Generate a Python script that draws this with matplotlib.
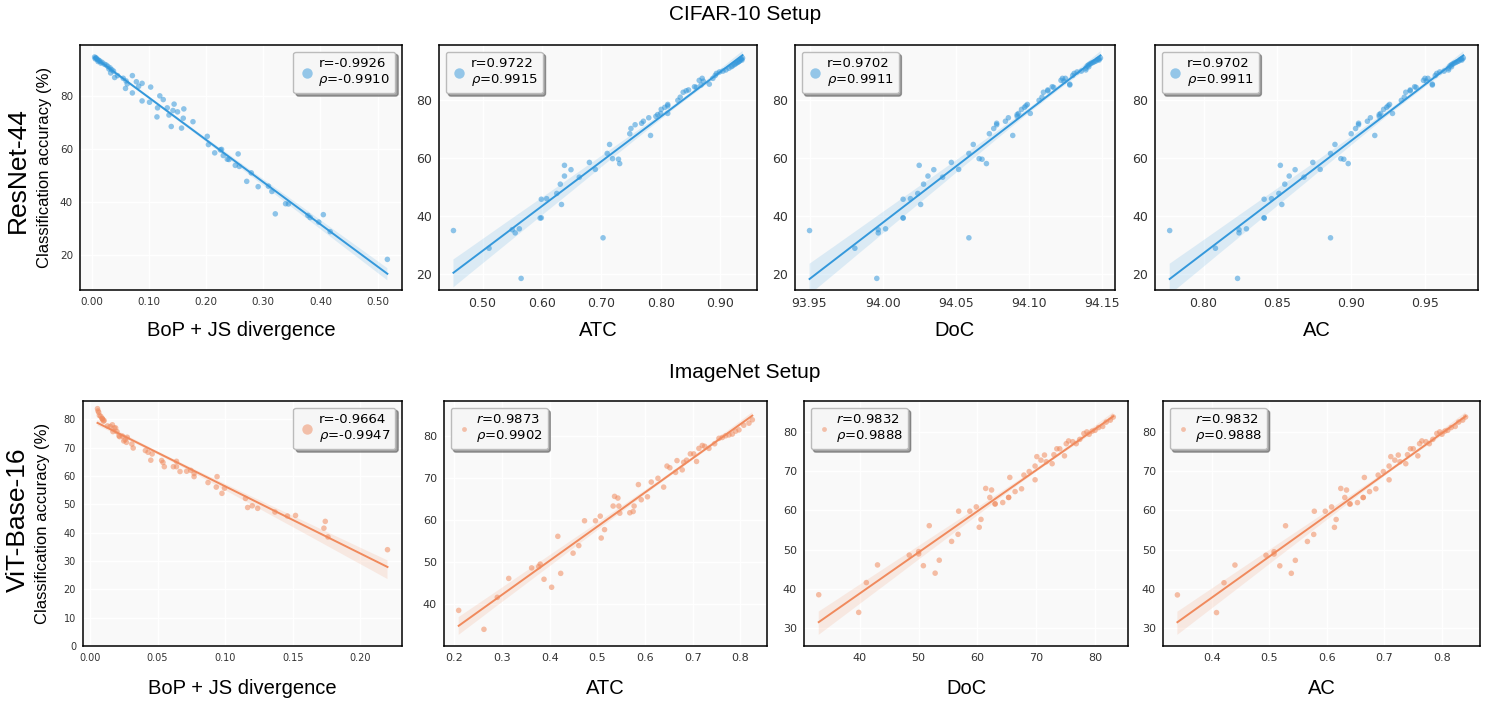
import numpy as np
import matplotlib
matplotlib.use("Agg")
import matplotlib.pyplot as plt
from matplotlib.lines import Line2D
from matplotlib.ticker import MultipleLocator, FormatStrFormatter
import seaborn as sns

# CIFAR-10 / ResNet-44 (accuracy shared by all four metrics)
cifar_acc = [94.5, 94.2, 94.0, 93.8, 93.5, 93.3, 93.0, 92.8, 92.5, 92.2, 91.8, 91.5, 91.0, 90.4,
             90.0, 89.7, 89.2, 88.5, 87.5, 87.5, 86.8, 86.5, 85.5, 85.2, 84.6, 84.4, 83.5, 83.2,
             82.7, 81.0, 79.9, 78.5, 78.0, 77.5, 76.8, 75.4, 75.4, 75.0, 74.4, 73.9, 72.7, 72.0,
             71.5, 70.2, 68.4, 67.8, 64.7, 61.6, 59.8, 59.6, 58.5, 58.1, 57.5, 56.1, 56.0, 53.8,
             53.4, 51.0, 47.8, 46.0, 45.8, 44.0, 39.4, 39.3, 35.6, 35.3, 35.0, 34.2, 32.5, 28.9, 18.5]
cifar_bop = [0.005, 0.007, 0.008, 0.006, 0.010, 0.012, 0.014, 0.011, 0.018, 0.016, 0.022, 0.025, 0.028, 0.032,
             0.030, 0.035, 0.038, 0.033, 0.045, 0.071, 0.040, 0.055, 0.060, 0.078, 0.088, 0.062, 0.082, 0.103,
             0.059, 0.071, 0.119, 0.125, 0.088, 0.101, 0.144, 0.132, 0.115, 0.161, 0.142, 0.150, 0.135, 0.114,
             0.160, 0.177, 0.139, 0.157, 0.202, 0.204, 0.227, 0.225, 0.215, 0.256, 0.230, 0.237, 0.240, 0.251,
             0.258, 0.279, 0.271, 0.309, 0.291, 0.315, 0.339, 0.344, 0.321, 0.405, 0.378, 0.382, 0.397, 0.417, 0.517]
cifar_atc = [0.938, 0.936, 0.935, 0.937, 0.933, 0.932, 0.930, 0.928, 0.926, 0.924, 0.921, 0.919, 0.915, 0.910,
             0.905, 0.899, 0.894, 0.892, 0.888, 0.870, 0.865, 0.872, 0.882, 0.868, 0.857, 0.860, 0.847, 0.843,
             0.838, 0.833, 0.829, 0.812, 0.812, 0.807, 0.801, 0.812, 0.800, 0.795, 0.792, 0.780, 0.771, 0.768,
             0.757, 0.750, 0.748, 0.783, 0.714, 0.710, 0.719, 0.729, 0.680, 0.731, 0.638, 0.690, 0.649, 0.638,
             0.663, 0.631, 0.625, 0.608, 0.599, 0.633, 0.599, 0.597, 0.562, 0.550, 0.451, 0.555, 0.703, 0.511, 0.565]
cifar_doc = [94.149, 94.148, 94.147, 94.148, 94.146, 94.145, 94.144, 94.143, 94.142, 94.141, 94.140, 94.141, 94.139, 94.139,
             94.136, 94.133, 94.131, 94.130, 94.125, 94.123, 94.122, 94.124, 94.128, 94.128, 94.116, 94.117, 94.113, 94.113,
             94.110, 94.109, 94.107, 94.099, 94.098, 94.097, 94.095, 94.101, 94.093, 94.092, 94.092, 94.086, 94.084, 94.078,
             94.078, 94.076, 94.073, 94.089, 94.062, 94.059, 94.066, 94.068, 94.047, 94.071, 94.025, 94.052, 94.035, 94.031,
             94.041, 94.028, 94.024, 94.019, 94.014, 94.026, 94.014, 94.014, 94.002, 93.997, 93.950, 93.997, 94.059, 93.981, 93.996]
cifar_ac = [0.976, 0.975, 0.974, 0.975, 0.973, 0.972, 0.971, 0.970, 0.969, 0.968, 0.967, 0.968, 0.966, 0.966,
            0.963, 0.960, 0.958, 0.957, 0.952, 0.950, 0.949, 0.951, 0.955, 0.955, 0.943, 0.944, 0.940, 0.940,
            0.937, 0.936, 0.934, 0.926, 0.925, 0.924, 0.922, 0.928, 0.920, 0.919, 0.919, 0.913, 0.911, 0.905,
            0.905, 0.903, 0.900, 0.916, 0.889, 0.886, 0.893, 0.895, 0.874, 0.898, 0.852, 0.879, 0.862, 0.858,
            0.868, 0.855, 0.851, 0.846, 0.841, 0.853, 0.841, 0.841, 0.829, 0.824, 0.777, 0.824, 0.886, 0.808, 0.823]

# ImageNet / ViT-Base-16
imnet_acc = [83.8, 83.0, 82.5, 81.4, 81.1, 80.4, 80.2, 80.0, 79.6, 79.4, 78.1, 77.7, 77.5, 77.0, 77.0,
             75.7, 75.7, 74.2, 74.1, 73.9, 73.7, 72.8, 72.4, 71.9, 71.3, 69.9, 69.0, 68.4, 67.8, 65.6,
             65.5, 65.2, 64.8, 63.3, 63.3, 63.3, 62.0, 61.7, 61.6, 60.9, 59.8, 59.8, 57.7, 56.1, 55.7,
             53.9, 52.1, 49.5, 48.9, 48.6, 47.3, 46.1, 45.9, 44.0, 41.6, 38.5, 34.0]
imnet_bop = [0.0056, 0.006, 0.0065, 0.007, 0.008, 0.009, 0.009, 0.0095, 0.0105, 0.010, 0.0166, 0.013, 0.015, 0.019, 0.018,
             0.020, 0.017, 0.0215, 0.024, 0.022, 0.0276, 0.026, 0.025, 0.027, 0.031, 0.032, 0.041, 0.043, 0.046, 0.045,
             0.053, 0.064, 0.054, 0.055, 0.0617, 0.064, 0.0746, 0.0715, 0.0666, 0.077, 0.094, 0.077, 0.0873, 0.0934, 0.0995,
             0.0976, 0.115, 0.120, 0.1166, 0.124, 0.1368, 0.152, 0.146, 0.174, 0.173, 0.176, 0.220]
imnet_atc = [0.825, 0.818, 0.807, 0.797, 0.790, 0.783, 0.776, 0.769, 0.762, 0.755, 0.746, 0.720, 0.725, 0.713, 0.734,
             0.695, 0.702, 0.687, 0.667, 0.708, 0.681, 0.646, 0.652, 0.678, 0.664, 0.627, 0.613, 0.586, 0.639, 0.536,
             0.605, 0.543, 0.592, 0.533, 0.545, 0.577, 0.575, 0.568, 0.547, 0.506, 0.473, 0.496, 0.515, 0.417, 0.508,
             0.461, 0.449, 0.380, 0.377, 0.362, 0.423, 0.314, 0.388, 0.404, 0.290, 0.209, 0.262]
imnet_doc = [83.1, 82.6, 81.9, 81.3, 80.6, 80.0, 79.5, 78.6, 78.1, 79.0, 77.4, 75.5, 76.2, 76.8, 75.1,
             73.5, 74.0, 73.0, 71.4, 74.8, 70.1, 70.8, 71.7, 72.7, 69.8, 68.8, 67.9, 65.5, 69.8, 61.4,
             67.5, 62.4, 66.4, 62.1, 65.3, 65.3, 64.3, 63.0, 63.0, 59.8, 56.8, 58.7, 60.6, 51.8, 60.3,
             56.7, 55.6, 50.0, 50.0, 48.4, 53.5, 43.0, 50.8, 52.8, 41.1, 33.0, 39.8]
imnet_ac = [0.841, 0.836, 0.829, 0.823, 0.816, 0.810, 0.805, 0.796, 0.791, 0.800, 0.784, 0.765, 0.772, 0.778, 0.761,
            0.745, 0.750, 0.740, 0.724, 0.758, 0.711, 0.718, 0.727, 0.737, 0.708, 0.698, 0.689, 0.665, 0.708, 0.624,
            0.685, 0.634, 0.674, 0.631, 0.663, 0.663, 0.653, 0.640, 0.640, 0.608, 0.578, 0.597, 0.616, 0.528, 0.613,
            0.577, 0.566, 0.508, 0.508, 0.494, 0.545, 0.440, 0.518, 0.538, 0.421, 0.340, 0.408]

metric_names = ["BoP + JS divergence", "ATC", "DoC", "AC"]
cifar_legend = ["r=-0.9926\n$\\rho$=-0.9910", "r=0.9722\n$\\rho$=0.9915",
                "r=0.9702\n$\\rho$=0.9911", "r=0.9702\n$\\rho$=0.9911"]
imnet_legend = ["r=-0.9664\n$\\rho$=-0.9947", "$r$=0.9873\n$\\rho$=0.9902",
                "$r$=0.9832\n$\\rho$=0.9888", "$r$=0.9832\n$\\rho$=0.9888"]

BLUE = "#3498db"
ORANGE = "#f08a5d"
W, H = 1489, 705

fig = plt.figure(figsize=(W / 100, H / 100), dpi=100)

# pixel boxes of the axes: (left, right)
top_boxes = [(80, 402), (439, 757), (795, 1115), (1155, 1478)]
bot_boxes = [(83, 402), (444, 767), (804, 1128), (1163, 1480)]


def make_ax(box, top, bottom):
    l, r = box
    return fig.add_axes([l / W, 1 - bottom / H, (r - l) / W, (bottom - top) / H])


def style_ax(ax, tsize):
    ax.set_facecolor("#f9f9f9")
    ax.grid(True, color="white", lw=1.0)
    ax.set_axisbelow(True)
    for sp in ax.spines.values():
        sp.set_color("black")
        sp.set_linewidth(1.1)
    ax.tick_params(length=0, pad=5, labelsize=tsize, labelcolor="#333333")
    ax.set_xlabel("")
    ax.set_ylabel("")


def draw(ax, x, y, color, label, loc, hsize, tsize):
    sns.regplot(x=np.array(x), y=np.array(y), ax=ax, color=color, ci=95, seed=0,
                scatter_kws=dict(s=16, alpha=0.55, edgecolors="none"),
                line_kws=dict(lw=1.4))
    h = Line2D([], [], ls="none", marker="o", markersize=hsize, color=color, alpha=0.5, mec="none")
    ax.legend([h], [label], loc=loc, fontsize=9.5, frameon=True, fancybox=True, shadow=True,
              facecolor="#f6f6f6", edgecolor="#bbbbbb", framealpha=1, handletextpad=0.3,
              borderpad=0.4, handlelength=1.2)
    style_ax(ax, tsize)


top_x = [cifar_bop, cifar_atc, cifar_doc, cifar_ac]
bot_x = [imnet_bop, imnet_atc, imnet_doc, imnet_ac]

top_axes = []
for i in range(4):
    ax = make_ax(top_boxes[i], 45, 290)
    draw(ax, top_x[i], cifar_acc, BLUE, cifar_legend[i],
         "upper right" if i == 0 else "upper left", 7.5, 7.5 if i == 0 else 9)
    ax.yaxis.set_major_locator(MultipleLocator(20))
    ax.set_ylim(7 if i == 0 else 14.5, 99)
    top_axes.append(ax)

top_axes[0].xaxis.set_major_locator(MultipleLocator(0.1))
top_axes[0].xaxis.set_major_formatter(FormatStrFormatter("%.2f"))
top_axes[1].xaxis.set_major_locator(MultipleLocator(0.1))
top_axes[1].xaxis.set_major_formatter(FormatStrFormatter("%.2f"))
top_axes[2].xaxis.set_major_locator(MultipleLocator(0.05))
top_axes[2].xaxis.set_major_formatter(FormatStrFormatter("%.2f"))
top_axes[3].xaxis.set_major_locator(MultipleLocator(0.05))
top_axes[3].xaxis.set_major_formatter(FormatStrFormatter("%.2f"))

bot_axes = []
for i in range(4):
    ax = make_ax(bot_boxes[i], 401, 646)
    draw(ax, bot_x[i], imnet_acc, ORANGE, imnet_legend[i],
         "upper right" if i == 0 else "upper left", 7.5 if i == 0 else 3.5, 7 if i == 0 else 8)
    ax.yaxis.set_major_locator(MultipleLocator(10))
    bot_axes.append(ax)

bot_axes[0].set_ylim(0, 86.5)
bot_axes[0].xaxis.set_major_locator(MultipleLocator(0.05))
bot_axes[0].xaxis.set_major_formatter(FormatStrFormatter("%.2f"))
bot_axes[1].xaxis.set_major_locator(MultipleLocator(0.1))
bot_axes[1].xaxis.set_major_formatter(FormatStrFormatter("%.1f"))
bot_axes[2].xaxis.set_major_locator(MultipleLocator(10))
bot_axes[3].xaxis.set_major_locator(MultipleLocator(0.1))
bot_axes[3].xaxis.set_major_formatter(FormatStrFormatter("%.1f"))

LS = "Liberation Sans"
for i in range(4):
    l, r = top_boxes[i]
    fig.text((l + r) / 2 / W, 1 - 330 / H, metric_names[i], ha="center", va="center",
             fontsize=14.5, family=LS)
    l, r = bot_boxes[i]
    fig.text((l + r) / 2 / W, 1 - 689 / H, metric_names[i], ha="center", va="center",
             fontsize=14.5, family=LS)

fig.text(745 / W, 1 - 14 / H, "CIFAR-10 Setup", ha="center", va="center", fontsize=15, family=LS)
fig.text(745 / W, 1 - 372 / H, "ImageNet Setup", ha="center", va="center", fontsize=15, family=LS)

fig.text(18 / W, 1 - 170 / H, "ResNet-44", rotation=90, ha="center", va="center", fontsize=19, family=LS)
fig.text(18 / W, 1 - 520 / H, "ViT-Base-16", rotation=90, ha="center", va="center", fontsize=19, family=LS)
fig.text(45 / W, 1 - 167 / H, "Classification accuracy (%)", rotation=90, ha="center", va="center",
         fontsize=12, family=LS)
fig.text(43 / W, 1 - 523 / H, "Classification accuracy (%)", rotation=90, ha="center", va="center",
         fontsize=12, family=LS)

fig.savefig("out.png", dpi=100)
